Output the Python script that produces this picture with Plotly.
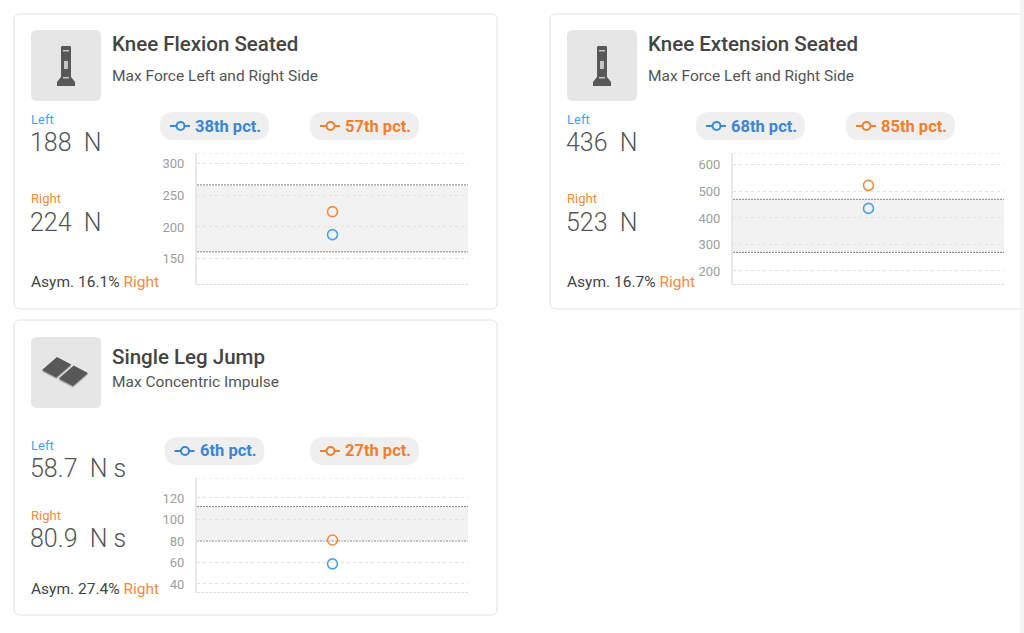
import plotly.graph_objects as go

W, H = 1024, 633

# data
tests = ["Knee Flexion Seated", "Knee Extension Seated", "Single Leg Jump"]
metrics = ["Max Force Left and Right Side", "Max Force Left and Right Side", "Max Concentric Impulse"]
units = ["N", "N", "N s"]
left_values = [188, 436, 58.7]
right_values = [224, 523, 80.9]
left_pct = [38, 68, 6]
right_pct = [57, 85, 27]
asym_pct = [16.1, 16.7, 27.4]
asym_side = ["Right", "Right", "Right"]
norm_low = [161, 270, 80]
norm_high = [266, 470, 112]
y_ranges = [[109, 316], [147, 645], [31.6, 138.6]]
y_ticks = [[150, 200, 250, 300], [200, 300, 400, 500, 600], [40, 60, 80, 100, 120]]
icons = ["machine", "machine", "plates"]

BLUE = "#4da2ee"
BLUE_TXT = "#3a86d4"
ORANGE = "#f28b3c"
ORANGE_TXT = "#ef7f2d"
FONT = "Roboto"

# card placement (px)
cards = [(14, 14), (550, 14), (14, 320)]
# vertical offsets inside a card: title, sub, left, lval, right, rval, asym, pill, plot top, plot bottom
rows_a = dict(title=30, sub=62, left=106, lval=128, right=185, rval=208, asym=268, pill=112, top=139, bot=271)
rows_b = dict(title=37, sub=62, left=125, lval=148, right=195, rval=218, asym=269, pill=131, top=158, bot=273)
card_rows = [rows_a, rows_a, rows_b]


def X(p):
    return p / W


def Y(p):
    return 1 - p / H


def rrect(x0, y0, x1, y1, r):
    return (f"M {X(x0 + r)} {Y(y0)} L {X(x1 - r)} {Y(y0)} Q {X(x1)} {Y(y0)} {X(x1)} {Y(y0 + r)} "
            f"L {X(x1)} {Y(y1 - r)} Q {X(x1)} {Y(y1)} {X(x1 - r)} {Y(y1)} "
            f"L {X(x0 + r)} {Y(y1)} Q {X(x0)} {Y(y1)} {X(x0)} {Y(y1 - r)} "
            f"L {X(x0)} {Y(y0 + r)} Q {X(x0)} {Y(y0)} {X(x0 + r)} {Y(y0)} Z")


def poly(pts):
    return "M " + " L ".join(f"{X(a)} {Y(b)}" for a, b in pts) + " Z"


def ordinal(n):
    if 10 <= n % 100 <= 20:
        suf = "th"
    else:
        suf = {1: "st", 2: "nd", 3: "rd"}.get(n % 10, "th")
    return f"{n}{suf}"


def paper_shape(**kw):
    d = dict(xref="paper", yref="paper", layer="above")
    d.update(kw)
    return d


fig = go.Figure()
shapes = []
annotations = []

for i in range(3):
    cx, cy = cards[i]
    rw = card_rows[i]

    # card frame
    shapes.append(paper_shape(type="path", path=rrect(cx, cy, cx + 483, cy + 295, 6),
                              line=dict(color="#e2e2e2", width=1), fillcolor="rgba(0,0,0,0)", layer="below"))

    # icon box
    ix, iy = cx + 17, cy + 16 if i < 2 else cy + 17
    shapes.append(paper_shape(type="path", path=rrect(ix, iy, ix + 70, iy + 71, 6),
                              line=dict(width=0), fillcolor="#e6e6e6"))
    if icons[i] == "machine":
        shapes.append(paper_shape(type="path", line=dict(width=0), fillcolor="#585858",
                                  path=poly([(ix + 30, iy + 17), (ix + 31, iy + 16), (ix + 39, iy + 16),
                                             (ix + 40, iy + 17), (ix + 40, iy + 47), (ix + 44, iy + 52),
                                             (ix + 44, iy + 56), (ix + 26, iy + 56), (ix + 26, iy + 52),
                                             (ix + 30, iy + 47)])))
        for (a, b, c, d) in [(33, 31, 37, 39), (32, 20, 38, 21.5), (32, 47, 38, 48.5)]:
            shapes.append(paper_shape(type="rect", x0=X(ix + a), x1=X(ix + c), y0=Y(iy + b), y1=Y(iy + d),
                                      line=dict(width=0), fillcolor="#c4c4c4"))
    else:
        A, B, C, D = (26, 20), (57, 36), (42, 49), (11, 33)
        m1 = ((A[0] + B[0]) / 2, (A[1] + B[1]) / 2)
        m2 = ((D[0] + C[0]) / 2, (D[1] + C[1]) / 2)
        g = 1.2
        for off, col in [(1.6, "#a8a8a8"), (0, "#585858")]:
            p1 = [A, (m1[0] - g, m1[1] - g / 2), (m2[0] - g, m2[1] - g / 2), D]
            p2 = [(m1[0] + g, m1[1] + g / 2), B, C, (m2[0] + g, m2[1] + g / 2)]
            for pl in (p1, p2):
                shapes.append(paper_shape(type="path", line=dict(width=0), fillcolor=col,
                                          path=poly([(ix + a, iy + b + off) for a, b in pl])))

    # header text
    annotations.append(dict(x=X(cx + 96), y=Y(cy + rw["title"]), text=tests[i],
                            font=dict(family=FONT, size=20.5, color="#444444", weight=500)))
    annotations.append(dict(x=X(cx + 96), y=Y(cy + rw["sub"]), text=metrics[i],
                            font=dict(family=FONT, size=15.5, color="#555555")))

    # left / right values
    annotations.append(dict(x=X(cx + 15), y=Y(cy + rw["left"]), text="Left",
                            font=dict(family=FONT, size=13, color=BLUE)))
    annotations.append(dict(x=X(cx + 14), y=Y(cy + rw["lval"]),
                            text=f"{left_values[i]:g}\u00a0\u00a0{units[i]}",
                            font=dict(family=FONT, size=25, color="#555555", weight=300)))
    annotations.append(dict(x=X(cx + 15), y=Y(cy + rw["right"]), text="Right",
                            font=dict(family=FONT, size=13, color=ORANGE)))
    annotations.append(dict(x=X(cx + 14), y=Y(cy + rw["rval"]),
                            text=f"{right_values[i]:g}\u00a0\u00a0{units[i]}",
                            font=dict(family=FONT, size=25, color="#555555", weight=300)))
    annotations.append(dict(x=X(cx + 15), y=Y(cy + rw["asym"]),
                            text=f"Asym. {asym_pct[i]}% <span style='color:{ORANGE}'>{asym_side[i]}</span>",
                            font=dict(family=FONT, size=15.5, color="#444444")))

    # percentile pills
    for centre, pct, tcol in [(200.5, left_pct[i], BLUE_TXT), (350.5, right_pct[i], ORANGE_TXT)]:
        label = f"{ordinal(pct)} pct."
        pw = 28 + 9 * len(label)
        px0 = cx + centre - pw / 2
        pyc = cy + rw["pill"]
        shapes.append(paper_shape(type="path", path=rrect(px0, pyc - 14, px0 + pw, pyc + 14, 14),
                                  line=dict(width=0), fillcolor="#efefef"))
        shapes.append(paper_shape(type="line", x0=X(px0 + 10), x1=X(px0 + 30), y0=Y(pyc), y1=Y(pyc),
                                  line=dict(color=tcol, width=2)))
        shapes.append(paper_shape(type="circle", x0=X(px0 + 16.5), x1=X(px0 + 24.5),
                                  y0=Y(pyc - 4), y1=Y(pyc + 4),
                                  line=dict(color=tcol, width=2), fillcolor="#efefef"))
        annotations.append(dict(x=X(px0 + 33), y=Y(pyc), text=f"<b>{label}</b>",
                                font=dict(family=FONT, size=16.5, color=tcol)))

    # chart
    sfx = "" if i == 0 else str(i + 1)
    xa, ya = "x" + sfx, "y" + sfx
    fig.add_trace(go.Scatter(x=[0.5], y=[left_values[i]], xaxis=xa, yaxis=ya, mode="markers",
                             marker=dict(symbol="circle-open", size=10, color=BLUE, line=dict(width=1.6)),
                             name="Left", showlegend=False))
    fig.add_trace(go.Scatter(x=[0.5], y=[right_values[i]], xaxis=xa, yaxis=ya, mode="markers",
                             marker=dict(symbol="circle-open", size=10, color=ORANGE, line=dict(width=1.6)),
                             name="Right", showlegend=False))

    dom_x = [X(cx + 183), X(cx + 454)]
    dom_y = [Y(cy + rw["bot"]), Y(cy + rw["top"])]
    fig.layout["xaxis" + sfx] = dict(domain=dom_x, range=[0, 1], visible=False, anchor=ya, fixedrange=True)
    fig.layout["yaxis" + sfx] = dict(domain=dom_y, range=y_ranges[i], anchor=xa, tickvals=y_ticks[i],
                                     showgrid=True, gridcolor="#e2e2e2", griddash="3px,3px", gridwidth=1,
                                     showline=True, linecolor="#e8e8e8", linewidth=2, zeroline=False,
                                     ticks="", ticklabelstandoff=8, fixedrange=True,
                                     tickfont=dict(family=FONT, size=13, color="#9e9e9e"))

    # normative band
    xr = "x" + sfx
    shapes.append(dict(type="rect", xref=xr, yref=ya, x0=0, x1=1, y0=norm_low[i], y1=norm_high[i],
                       fillcolor="#f3f2f3", line=dict(width=0), layer="below"))
    for v in (norm_low[i], norm_high[i]):
        shapes.append(dict(type="line", xref=xr, yref=ya, x0=0, x1=1, y0=v, y1=v,
                           line=dict(color="#888888", width=1, dash="2px,1px"), layer="below"))
    shapes.append(dict(type="line", xref=xr, yref=ya, x0=0, x1=1, y0=y_ranges[i][1], y1=y_ranges[i][1],
                       line=dict(color="#e2e2e2", width=1, dash="3px,3px"), layer="below"))
    shapes.append(dict(type="line", xref=xr, yref=ya, x0=0, x1=1, y0=y_ranges[i][0], y1=y_ranges[i][0],
                       line=dict(color="#c4c4c4", width=1.2, dash="3px,1px"), layer="above"))

# light strip at the right edge of the page
shapes.append(paper_shape(type="rect", x0=X(1020), x1=1, y0=0, y1=1, line=dict(width=0), fillcolor="#f4f4f4"))

for a in annotations:
    a.update(xref="paper", yref="paper", xanchor="left", yanchor="middle", showarrow=False)

fig.update_layout(
    width=W, height=H,
    margin=dict(l=0, r=0, t=0, b=0),
    paper_bgcolor="white",
    plot_bgcolor="rgba(0,0,0,0)",
    showlegend=False,
    shapes=shapes,
    annotations=annotations,
    font=dict(family=FONT),
)

fig.write_html("out.html", config={"displayModeBar": False},
               post_script="document.body.style.margin = '0';")
